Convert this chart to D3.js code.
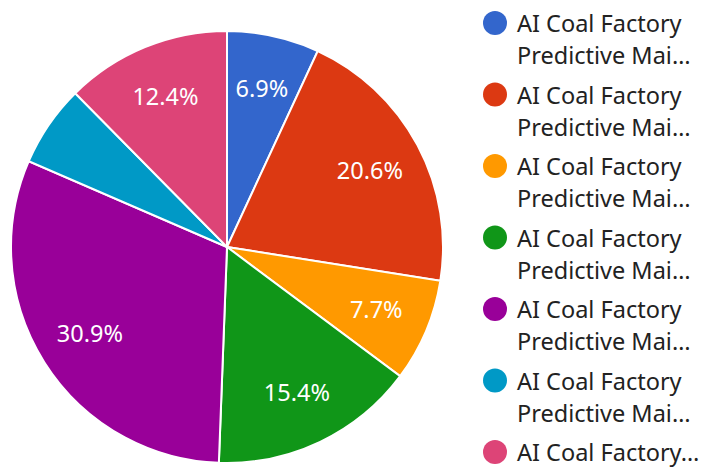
<!DOCTYPE html>
<html>
<head>
<meta charset="utf-8">
<script src="https://cdn.jsdelivr.net/npm/d3@7"></script>
<style>
  body { margin: 0; background: #fff; }
  text { font-family: "Noto Sans", "Open Sans", sans-serif; }
</style>
</head>
<body>
<svg id="pieChart" width="708" height="468"></svg>
<script>
// slice shares in percent, clockwise from 12 o'clock
const shares = [6.9, 20.6, 7.7, 15.4, 30.9, 6.1, 12.4];
const colors = ["#3366cc", "#dc3912", "#ff9900", "#109618", "#990099", "#0099c6", "#dd4477"];
// legend lines as shown (truncated names)
const legendLines = [
    ["AI Coal Factory", "Predictive Mai\u2026"],
    ["AI Coal Factory", "Predictive Mai\u2026"],
    ["AI Coal Factory", "Predictive Mai\u2026"],
    ["AI Coal Factory", "Predictive Mai\u2026"],
    ["AI Coal Factory", "Predictive Mai\u2026"],
    ["AI Coal Factory", "Predictive Mai\u2026"],
    ["AI Coal Factory\u2026"]
];

const svg = d3.select("#pieChart");
const cx = 227, cy = 247, radius = 216;

const g = svg.append("g").attr("transform", `translate(${cx},${cy})`);

const pie = d3.pie().sort(null).value(d => d);
const arcs = pie(shares);

const arc = d3.arc().innerRadius(0).outerRadius(radius);
const labelArc = d3.arc().innerRadius(radius * 0.75).outerRadius(radius * 0.75);

g.selectAll(".slice")
    .data(arcs)
    .enter()
    .append("path")
    .attr("class", "slice")
    .attr("d", arc)
    .style("fill", (d, i) => colors[i])
    .style("stroke", "#fff")
    .style("stroke-width", 2);

// small slices don't get a label (text doesn't fit)
g.selectAll(".label")
    .data(arcs.filter(d => d.data >= 6.5))
    .enter()
    .append("text")
    .attr("class", "label")
    .attr("transform", d => `translate(${labelArc.centroid(d)})`)
    .attr("text-anchor", "middle")
    .attr("dy", "0.35em")
    .style("fill", "#fff")
    .style("font-size", "23.5px")
    .text(d => d.data.toFixed(1) + "%");

const legend = svg.append("g").attr("transform", "translate(495,23)");

const items = legend.selectAll(".legend-item")
    .data(legendLines)
    .enter()
    .append("g")
    .attr("class", "legend-item")
    .attr("transform", (d, i) => `translate(0,${i * 71.5})`);

items.append("circle")
    .attr("r", 12)
    .style("fill", (d, i) => colors[i]);

items.selectAll("text")
    .data(d => d)
    .enter()
    .append("text")
    .attr("x", 22)
    .attr("y", (d, j) => 9 + j * 32)
    .style("font-size", "23.5px")
    .style("fill", "#222")
    .text(d => d);
</script>
</body>
</html>
